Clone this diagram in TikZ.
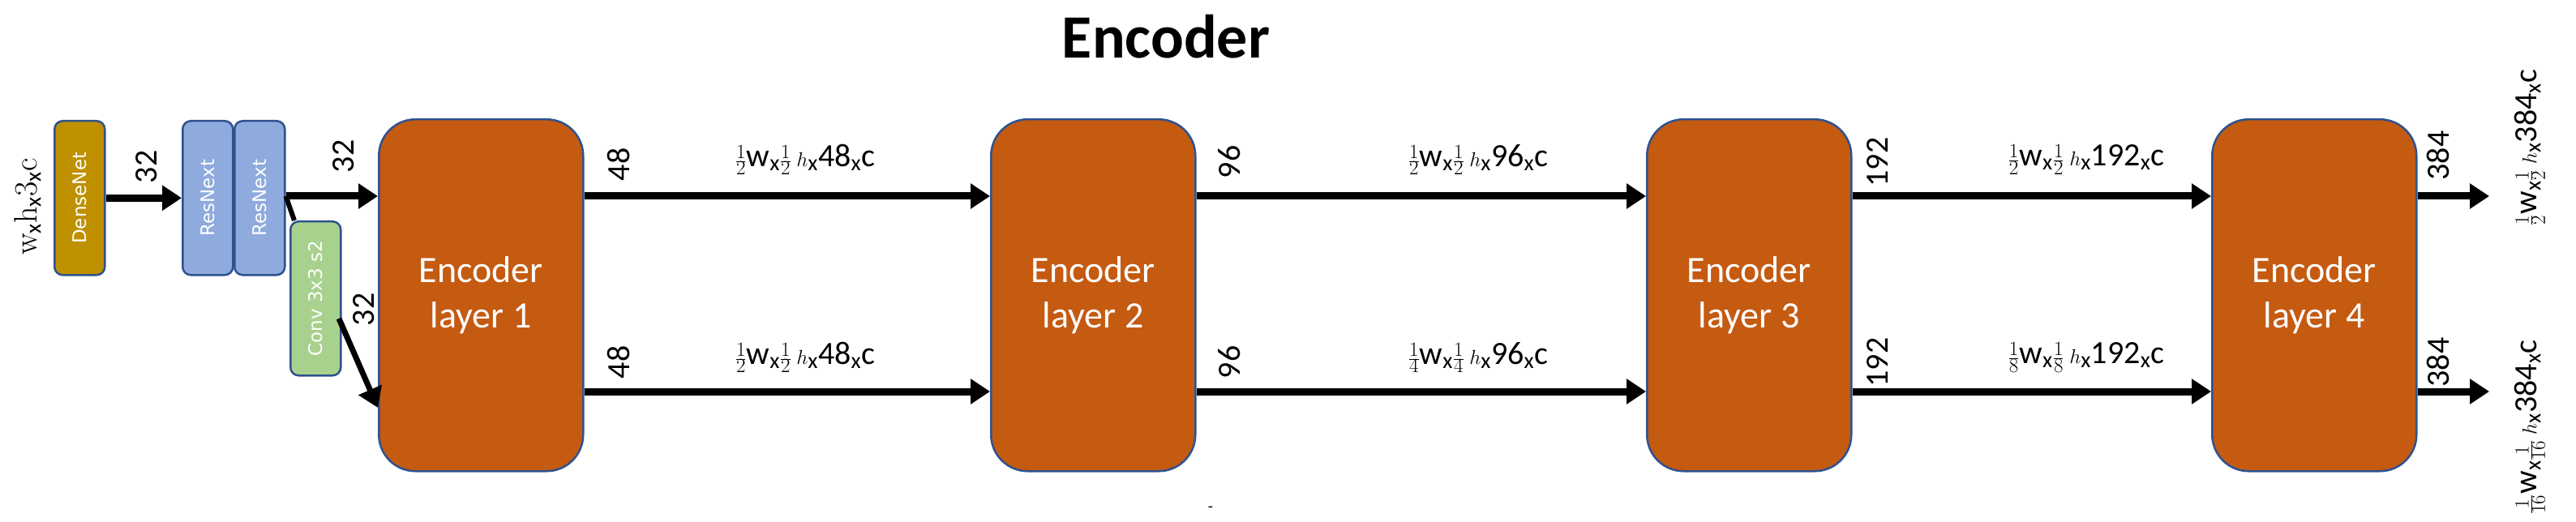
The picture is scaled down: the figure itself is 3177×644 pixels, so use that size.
\documentclass[tikz,border=0pt]{standalone}
\usepackage{fontspec}
\setmainfont{Carlito}
\newfontfamily\boxfont{DejaVu Sans}
\usetikzlibrary{arrows.meta}
\definecolor{enc}{HTML}{C55A11}
\definecolor{dn}{HTML}{BF9000}
\definecolor{rn}{HTML}{8FAADC}
\definecolor{cv}{HTML}{A9D18E}
\definecolor{bd}{HTML}{2F528F}
\tikzset{
 x=1pt,y=1pt,
 box/.style={draw=bd,line width=2.5pt,inner sep=0pt,anchor=north west},
 small/.style={box,rounded corners=10pt,minimum width=62pt,text=white,font=\boxfont\fontsize{23}{26}\selectfont},
 encl/.style={box,fill=enc,rounded corners=45pt,minimum width=252pt,minimum height=434pt,text=white,align=center,font=\fontsize{46}{56}\selectfont},
 arr/.style={line width=9pt,-{Triangle[length=24pt,width=30pt]}},
 num/.style={rotate=90,font=\fontsize{40}{40}\selectfont},
 frm/.style={font=\fontsize{40}{40}\selectfont},
}
\newcommand{\xs}{\ensuremath{_\mathrm{x}}}
\begin{document}
\begin{tikzpicture}
\useasboundingbox (0,0) rectangle (3177,-644);
\node[font=\bfseries\fontsize{76}{80}\selectfont] (title) at (1438,-45) {Encoder};
\coordinate (t) at (0,-242);
\coordinate (b) at (0,-483);
\node[small,fill=dn,minimum height=190pt] (dn) at (66,-148) {\rotatebox{90}{DenseNet}};
\node[small,fill=rn,minimum height=190pt] (rn1) at (224,-148) {\rotatebox{90}{ResNext}};
\node[small,fill=rn,minimum height=190pt] (rn2) at (288,-148) {\rotatebox{90}{ResNext}};
\node[small,fill=cv,minimum height=190pt] (cv) at (357,-272) {\rotatebox{90}{Conv 3x3 s2}};
\node[encl] (e1) at (466,-146) {Encoder\\layer 1};
\node[encl] (e2) at (1221,-146) {Encoder\\layer 2};
\node[encl] (e3) at (2030,-146) {Encoder\\layer 3};
\node[encl] (e4) at (2727,-146) {Encoder\\layer 4};
\node[num,font=\rmfamily\fontsize{40}{40}\selectfont] (in) at (34,-255) {\fontspec{Latin Modern Roman}w\xs h\xs 3\xs c};
\draw[arr] (dn.east) -- (rn1.west);
\draw[arr] (rn2.east |- t) -- (e1.west |- t);
\draw[line width=6pt] (rn2.east |- t) -- ([xshift=6pt]cv.north west);
\coordinate (cvo) at (418,-393);
\coordinate (e1in) at (466,-503);
\draw[line width=7pt,-{Triangle[length=24pt,width=30pt]}] (cvo) -- (e1in);
\node[num] (l0) at (181,-206) {32};
\node[num] (l1) at (424,-193) {32};
\node[num] (l2) at (449,-382) {32};
\draw[arr] (e1.east |- t) -- (e2.west |- t);
\draw[arr] (e1.east |- b) -- (e2.west |- b);
\draw[arr] (e2.east |- t) -- (e3.west |- t);
\draw[arr] (e2.east |- b) -- (e3.west |- b);
\draw[arr] (e3.east |- t) -- (e4.west |- t);
\draw[arr] (e3.east |- b) -- (e4.west |- b);
\coordinate (ot) at (3070,-242);
\coordinate (ob) at (3070,-483);
\draw[arr] (e4.east |- t) -- (ot);
\draw[arr] (e4.east |- b) -- (ob);
\node[num] at (763,-203) {48};
\node[num] at (763,-447) {48};
\node[num] at (1516,-200) {96};
\node[num] at (1516,-447) {96};
\node[num] at (2315,-200) {192};
\node[num] at (2315,-447) {192};
\node[num] at (3007,-192) {384};
\node[num] at (3007,-447) {384};
\node[frm] at (993,-197) {$\frac{1}{2}$w\xs$\frac{1}{2}$\,$h$\xs48\xs c};
\node[frm] at (993,-441) {$\frac{1}{2}$w\xs$\frac{1}{2}$\,$h$\xs48\xs c};
\node[frm] at (1823,-197) {$\frac{1}{2}$w\xs$\frac{1}{2}$\,$h$\xs96\xs c};
\node[frm] at (1823,-441) {$\frac{1}{4}$w\xs$\frac{1}{4}$\,$h$\xs96\xs c};
\node[frm] at (2573,-197) {$\frac{1}{2}$w\xs$\frac{1}{2}$\,$h$\xs192\xs c};
\node[frm] at (2573,-441) {$\frac{1}{8}$w\xs$\frac{1}{8}$\,$h$\xs192\xs c};
\node[frm,rotate=90] at (3120,-182) {$\frac{1}{2}$w\xs$\frac{1}{2}$\,$h$\xs384\xs c};
\node[frm,rotate=90] at (3120,-527) {$\frac{1}{16}$w\xs$\frac{1}{16}$\,$h$\xs384\xs c};
\node[font=\fontsize{20}{20}\selectfont] at (1493,-628) {-};
\end{tikzpicture}
\end{document}
